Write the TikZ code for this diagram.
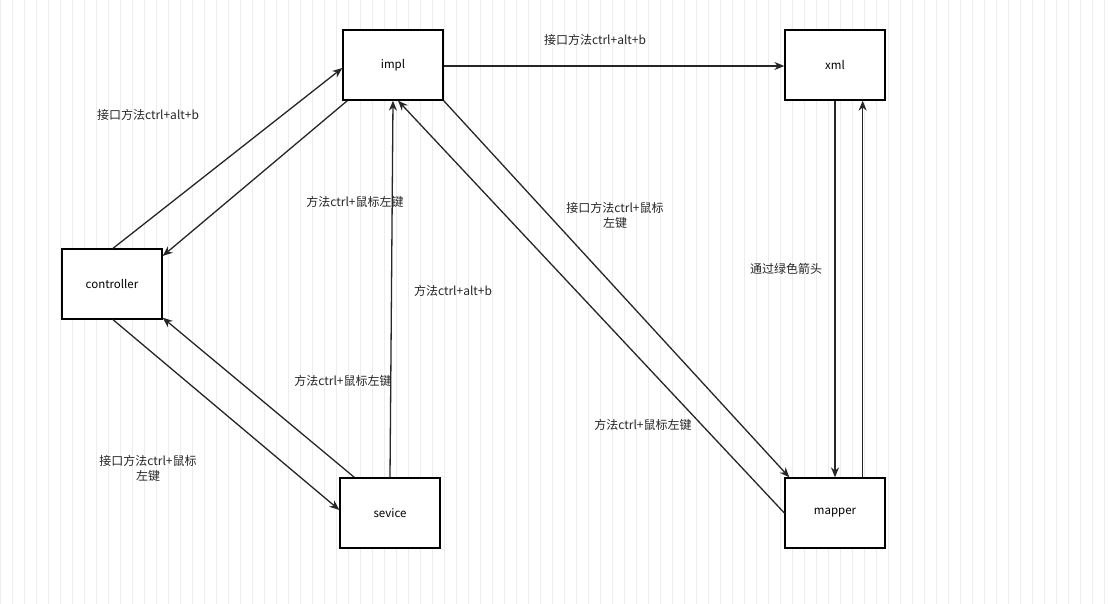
\documentclass[tikz,border=0pt]{standalone}
\usepackage{fontspec}
\setmainfont{Noto Sans CJK SC}
\usetikzlibrary{arrows.meta}
\begin{document}
\begin{tikzpicture}[x=1pt,y=-1pt,
 box/.style={draw=black,line width=1.3pt,fill=white,minimum width=100pt,minimum height=70pt,inner sep=0pt,font=\fontsize{11.5}{13}\selectfont},
 arr/.style={draw=black!85,line width=1.3pt,-{Stealth[length=10pt,width=8pt]}},
 lbl/.style={font=\fontsize{12}{15}\selectfont,align=center,text=black!85}]
\useasboundingbox (0,0) rectangle (1108,604);
\fill[white] (0,0) rectangle (1108,604);
\draw[black!7,line width=0.5pt,step=12] (0,0) grid (1108,604);
\node[box] (impl) at (393,65) {impl};
\node[box] (xml) at (835,65) {xml};
\node[box] (ctrl) at (112,284) {controller};
\node[box] (sev) at (390,513) {sevice};
\node[box] (map) at (835,513) {mapper};
\draw[arr] ([xshift=1pt]ctrl.north) -- ([yshift=-3pt]impl.west);
\draw[arr] ([xshift=5pt]impl.south west) -- ([yshift=28pt]ctrl.east);
\draw[arr] ([xshift=1pt]ctrl.south) -- ([yshift=3pt]sev.west);
\draw[arr] ([xshift=15pt]sev.north west) -- ([yshift=2pt]ctrl.south east);
\draw[arr] (sev.north) -- (impl.south);
\draw[arr] ([yshift=-1pt]impl.east) -- ([yshift=-1pt]xml.west);
\draw[arr] (impl.south east) -- ([xshift=5pt]map.north west);
\draw[arr] (map.west) -- ([xshift=5pt]impl.south);
\draw[arr] (xml.south) -- (map.north);
\draw[arr] ([xshift=-23pt]map.north east) -- ([xshift=-23pt]xml.south east);
\node[lbl] (l1) at (148,115) {接口方法ctrl+alt+b};
\node[lbl] (l2) at (595,40) {接口方法ctrl+alt+b};
\node[lbl] (l3) at (355,202) {方法ctrl+鼠标左键};
\node[lbl] (l4) at (453,291) {方法ctrl+alt+b};
\node[lbl] (l5) at (343,381) {方法ctrl+鼠标左键};
\node[lbl] (l6) at (148,468) {接口方法ctrl+鼠标\\左键};
\node[lbl] (l7) at (615,215) {接口方法ctrl+鼠标\\左键};
\node[lbl] (l8) at (643,425) {方法ctrl+鼠标左键};
\node[lbl] (l9) at (786,269) {通过绿色箭头};
\end{tikzpicture}
\end{document}
